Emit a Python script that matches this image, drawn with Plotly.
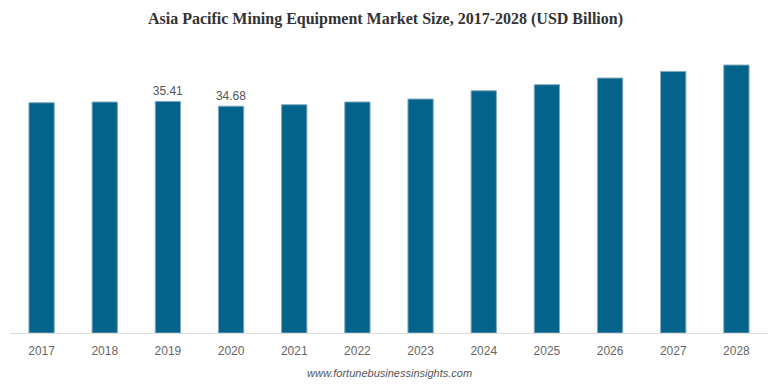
import plotly.graph_objects as go

years = ["2017", "2018", "2019", "2020", "2021", "2022", "2023", "2024", "2025", "2026", "2027", "2028"]
values = [35.21, 35.32, 35.41, 34.68, 34.90, 35.32, 35.77, 37.04, 37.96, 38.98, 40.00, 40.97]
labels = ["", "", "35.41", "34.68", "", "", "", "", "", "", "", ""]

fig = go.Figure(go.Bar(
    x=years, y=values, text=labels, textposition="outside", constraintext="none",
    textfont=dict(family="Arial, Liberation Sans", size=12, color="#555555"),
    marker=dict(color="#04638A", line=dict(color="#7FA8BE", width=1)),
    cliponaxis=False,
))

fig.update_layout(
    width=771, height=385,
    margin=dict(l=10, r=3, t=50, b=52),
    paper_bgcolor="white", plot_bgcolor="white",
    bargap=0.6,
    showlegend=False,
    title=dict(text="<b>Asia Pacific Mining Equipment Market Size, 2017-2028 (USD Billion)</b>",
               x=0.5, xanchor="center", y=0.953, yanchor="middle",
               font=dict(family="Liberation Serif, Times New Roman, serif", size=16, color="#333333")),
    xaxis=dict(showline=True, linecolor="#dddddd", linewidth=1, ticks="",
               ticklabelstandoff=7,
               tickfont=dict(family="Arial, Liberation Sans", size=12, color="#666666"),
               fixedrange=True),
    yaxis=dict(range=[0, 43.27], visible=False, showgrid=False, zeroline=False),
    annotations=[dict(text="<i>www.fortunebusinessinsights.com</i>", x=0.5, xref="paper",
                      y=-(373 - 333) / 283, yref="paper", yanchor="middle", showarrow=False,
                      font=dict(family="Arial, Liberation Sans", size=11, color="#555555"))],
)

fig.write_html("out.html", config={"displayModeBar": False},
               post_script="document.body.style.margin='0';document.body.style.overflow='hidden';")
